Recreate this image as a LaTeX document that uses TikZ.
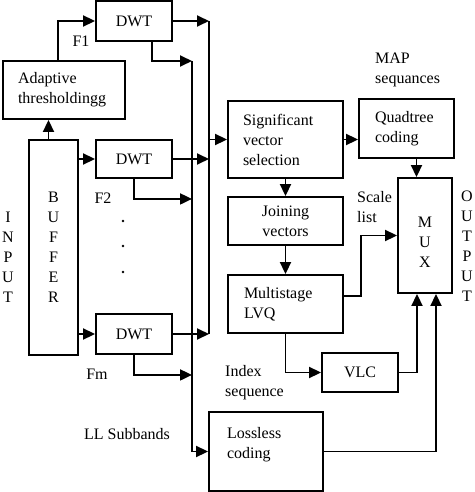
\documentclass[tikz,border=0pt]{standalone}
\usepackage{fontspec}
\setmainfont{Liberation Serif}
\usetikzlibrary{calc}
\usetikzlibrary{arrows.meta}

\begin{document}
\begin{tikzpicture}[x=1pt,y=-1pt,
  every node/.style={font=\fontsize{16}{20}\selectfont},
  blk/.style={draw,line width=1.9pt,inner sep=0pt},
  arr/.style={line width=1.9pt,-{Triangle[length=12pt,width=11pt]}},
  txt/.style={inner sep=0pt,align=left}]
\useasboundingbox (0,0) rectangle (474,492);
\node[blk,minimum width=76pt,minimum height=40pt] (dwtA) at (134,21) {DWT};
\node[blk,minimum width=122pt,minimum height=58pt,text width=92pt,align=left] (adapt) at (64,90) {Adaptive\\thresholdingg};
\node[blk,minimum width=49pt,minimum height=215pt,align=center] (buffer) at (53.5,247.5) {B\\U\\F\\F\\E\\R};
\node[blk,minimum width=76pt,minimum height=38pt] (dwtB) at (134,159) {DWT};
\node[blk,minimum width=76pt,minimum height=40pt] (dwtM) at (134,334) {DWT};
\node[blk,minimum width=115pt,minimum height=77pt,text width=85pt,align=left] (sig) at (285.5,139.5) {Significant\\vector\\selection};
\node[blk,minimum width=95pt,minimum height=59pt,text width=63pt,align=left] (quad) at (406.5,128.5) {Quadtree\\coding};
\node[blk,minimum width=115pt,minimum height=48pt,align=center] (join) at (285.5,221) {Joining\\vectors};
\node[blk,minimum width=115pt,minimum height=58pt,text width=83pt,align=left] (multi) at (285.5,304) {Multistage\\LVQ};
\node[blk,minimum width=54pt,minimum height=115pt,label={[align=center,inner sep=0pt,yshift=-7pt]center:M\\U\\X}] (mux) at (425,235.5) {};
\node[blk,minimum width=76pt,minimum height=39pt] (vlc) at (360,372.5) {VLC};
\node[blk,minimum width=114pt,minimum height=79pt,label={[text width=78pt,align=left,inner sep=0pt,yshift=7pt]center:Lossless\\coding}] (loss) at (266,451.5) {};

\node[txt] (fOne) at (81,41) {F1};
\node[txt] (fTwo) at (103,198) {F2};
\node[txt] (fM) at (97,374) {Fm};
\node[txt] (llSub) at (127,434) {LL Subbands};
\node[txt,anchor=west] (idxSeq) at (225,383) {Index\\sequence};
\node[txt,anchor=west] (scaleL) at (357,207) {Scale\\list};
\node[txt,anchor=west] (mapSeq) at (375,69.5) {MAP\\sequances};
\node[txt,align=center] (inLbl) at (8,257) {I\\N\\P\\U\\T};
\node[txt,align=center] (outLbl) at (467,246) {O\\U\\T\\P\\U\\T};
\foreach \y in {221,246,272} \fill (123,\y) circle (1.3pt);

\draw[arr] ([xshift=-5pt]buffer.north) -- ([xshift=-5pt]buffer.north |- adapt.south);
\draw[arr] ([xshift=-6pt]adapt.north) |- (dwtA.west);
\draw[arr] (buffer.east |- dwtB.west) -- (dwtB.west);
\draw[arr] (buffer.east |- dwtM.west) -- (dwtM.west);

\coordinate (busO) at (209,21);
\coordinate (busI) at (192,61);
\draw[line width=1.9pt] (busO) -- (busO |- dwtM.east);
\draw[arr] (dwtA.east) -- (busO);
\draw[arr] (dwtB.east) -- (dwtB.east -| busO);
\draw[arr] (dwtM.east) -- (dwtM.east -| busO);
\draw[arr] (busO |- sig.west) -- (sig.west);

\draw[line width=1.9pt] (busI) -- (busI |- loss.west);
\draw[arr] ([xshift=18pt]dwtA.south) |- (busI);
\draw[arr] (dwtB.south) |- ($(busI |- dwtB.south)+(0,20)$);
\draw[arr] (dwtM.south) |- ($(busI |- dwtM.south)+(0,20)$);
\draw[arr] (busI |- loss.west) -- (loss.west);

\draw[arr] (sig.east) -- (sig.east -| quad.west);
\draw[arr] (sig.south) -- (join.north);
\draw[arr] (join.south) -- (multi.north);
\draw[arr] ([xshift=10pt]quad.south) -- ([xshift=10pt]quad.south |- mux.north);
\draw[arr] ([yshift=8pt]multi.east) -- ++(17,0) |- (mux.west);
\draw[arr] (multi.south) |- (vlc.west);
\draw[arr] (vlc.east) -| ([xshift=-8pt]mux.south);
\draw[arr] (loss.east) -| ([xshift=11pt]mux.south);
\end{tikzpicture}
\end{document}
